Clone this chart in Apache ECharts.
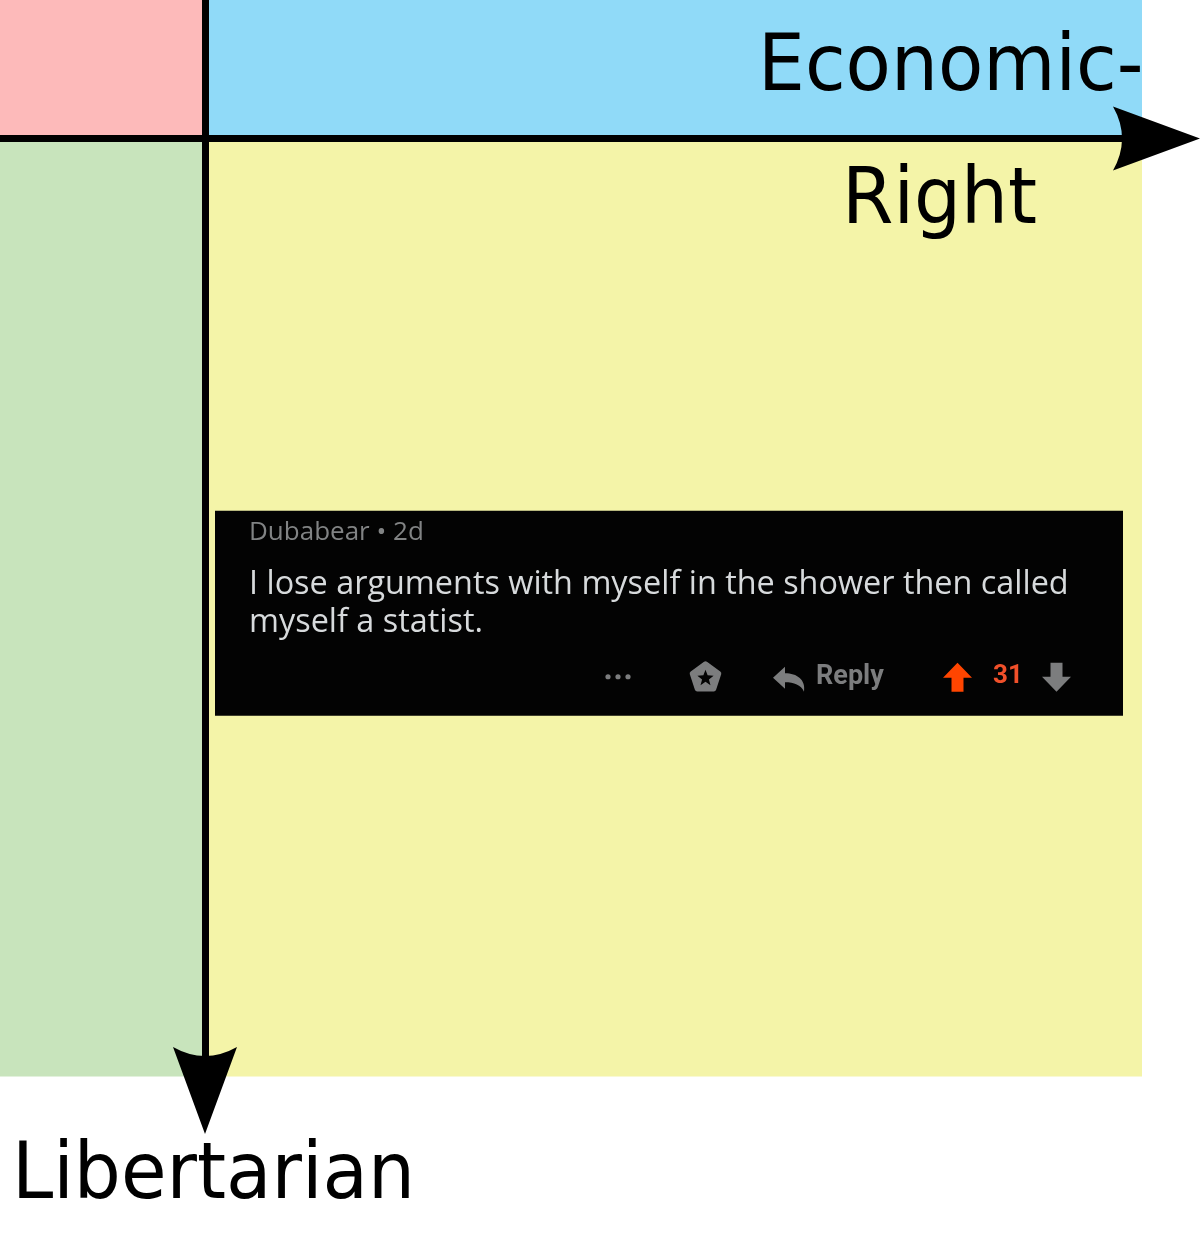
<!DOCTYPE html>
<html>
<head>
<meta charset="utf-8">
<script src="https://cdn.jsdelivr.net/npm/echarts@6/dist/echarts.min.js"></script>
<style>
html,body{margin:0;padding:0;background:#ffffff;}
#chart{width:1202px;height:1235px;}
</style>
</head>
<body>
<div id="chart"></div>
<script>
// ---- data ----
const quadrantNames = ['Authoritarian Left', 'Authoritarian Right', 'Libertarian Left', 'Libertarian Right'];
const quadrantX = [[-2.05, 0], [0, 9.37], [-2.05, 0], [0, 9.37]];
const quadrantY = [[0, 1.385], [0, 1.385], [-9.385, 0], [-9.385, 0]];
const quadrantColors = ['#fdbaba', '#90daf8', '#c8e4bc', '#f4f4a8'];

const axisRange = { x: [-2.05, 9.515], y: [-9.525, 1.385] };
const xAxisLabel = ['Economic-', 'Right'];
const yAxisLabel = 'Libertarian';

const commentAuthor = 'Dubabear';
const commentAge = '2d';
const commentLines = ['I lose arguments with myself in the shower then called', 'myself a statist.'];
const commentScore = 31;
const commentX = [0.10, 9.18];
const commentY = [-3.725, -5.775];

// ---- chart ----
const chart = echarts.init(document.getElementById('chart'));
const arrowPath = 'path://M32,0 L64,87 Q32,69 0,87 Z';
const grey = '#7c7d7e';
const bodyFont = '"Open Sans"';
const bigFont = '78px "DejaVu Sans"';

function renderQuadrant(params, api) {
  const i = params.dataIndex;
  const p1 = api.coord([quadrantX[i][0], quadrantY[i][1]]);
  const p2 = api.coord([quadrantX[i][1], quadrantY[i][0]]);
  return {
    type: 'rect',
    shape: { x: p1[0], y: p1[1], width: p2[0] - p1[0], height: p2[1] - p1[1] },
    style: { fill: quadrantColors[i] }
  };
}

function renderComment(params, api) {
  const p1 = api.coord([commentX[0], commentY[0]]);
  const p2 = api.coord([commentX[1], commentY[1]]);
  const w = p2[0] - p1[0], h = p2[1] - p1[1];
  const children = [
    { type: 'rect', shape: { x: 0, y: 0, width: w, height: h }, style: { fill: '#030303' } },
    { type: 'text', x: 34, y: 22, style: { text: commentAuthor + ' \u2022 ' + commentAge, fill: '#818384', font: '26px ' + bodyFont, verticalAlign: 'middle' } },
    { type: 'text', x: 34, y: 74, style: { text: commentLines[0], fill: '#d7dadc', font: '32.4px ' + bodyFont, verticalAlign: 'middle' } },
    { type: 'text', x: 34, y: 112, style: { text: commentLines[1], fill: '#d7dadc', font: '32.4px ' + bodyFont, verticalAlign: 'middle' } },
    // dots
    { type: 'circle', shape: { cx: 393, cy: 166, r: 2.6 }, style: { fill: grey } },
    { type: 'circle', shape: { cx: 403, cy: 166, r: 2.6 }, style: { fill: grey } },
    { type: 'circle', shape: { cx: 413, cy: 166, r: 2.6 }, style: { fill: grey } },
    // award pentagon
    { type: 'polygon', x: 490.5, y: 167, shape: { points: pentagon(14) }, style: { fill: grey, stroke: grey, lineWidth: 5, lineJoin: 'round' } },
    { type: 'polygon', x: 490.5, y: 167.5, shape: { points: star(8.5, 3.6) }, style: { fill: '#030303' } },
    // reply icon
    { type: 'path', x: 558, y: 156, shape: { pathData: 'M0,11 L12,0 L12,6.5 C24,6.5 33,13 31,25 C28,18 21,15.5 12,15.5 L12,22 Z' }, style: { fill: grey } },
    { type: 'text', x: 601, y: 166, style: { text: 'Reply', fill: grey, font: 'bold 27px Roboto', verticalAlign: 'middle' } },
    // upvote
    { type: 'path', x: 728, y: 152, shape: { pathData: 'M14.5,0 L29,15 L20.5,15 L20.5,29 L8.5,29 L8.5,15 L0,15 Z' }, style: { fill: '#ff4500' } },
    { type: 'text', x: 778, y: 166, style: { text: String(commentScore), fill: '#f0502a', font: 'bold 26px Roboto', verticalAlign: 'middle' } },
    // downvote
    { type: 'path', x: 827, y: 152, shape: { pathData: 'M8.5,0 L20.5,0 L20.5,14 L29,14 L14.5,29 L0,14 L8.5,14 Z' }, style: { fill: grey } }
  ];
  return { type: 'group', x: p1[0], y: p1[1], children: children };
}

function pentagon(r) {
  const pts = [];
  for (let k = 0; k < 5; k++) {
    const a = -Math.PI / 2 + k * 2 * Math.PI / 5;
    pts.push([r * Math.cos(a), r * Math.sin(a)]);
  }
  return pts;
}
function star(R, r) {
  const pts = [];
  for (let k = 0; k < 10; k++) {
    const a = -Math.PI / 2 + k * Math.PI / 5;
    const rr = k % 2 === 0 ? R : r;
    pts.push([rr * Math.cos(a), rr * Math.sin(a)]);
  }
  return pts;
}

const axisCommon = {
  type: 'value',
  z: 5,
  splitLine: { show: false },
  axisTick: { show: false },
  axisLabel: { show: false }
};

chart.setOption({
  animation: false,
  backgroundColor: '#ffffff',
  grid: { left: 0, top: 0, right: 45.5, bottom: 144.5, containLabel: false },
  xAxis: Object.assign({}, axisCommon, {
    min: axisRange.x[0], max: axisRange.x[1],
    axisLine: { show: true, onZero: true, symbol: ['none', arrowPath], symbolSize: [64, 87], lineStyle: { color: '#000', width: 7 } }
  }),
  yAxis: Object.assign({}, axisCommon, {
    min: axisRange.y[0], max: axisRange.y[1],
    axisLine: { show: true, onZero: true, symbol: [arrowPath, 'none'], symbolSize: [64, 87], lineStyle: { color: '#000', width: 7 } }
  }),
  graphic: [
    { type: 'text', x: 1143.5, y: 31, scaleX: 0.95, style: { text: xAxisLabel[0], fill: '#000', font: bigFont, align: 'right', verticalAlign: 'top' }, z: 10 },
    { type: 'text', x: 842, y: 164, scaleX: 0.95, style: { text: xAxisLabel[1], fill: '#000', font: bigFont, align: 'left', verticalAlign: 'top' }, z: 10 },
    { type: 'text', x: 12, y: 1139, scaleX: 0.95, style: { text: yAxisLabel, fill: '#000', font: bigFont, align: 'left', verticalAlign: 'top' }, z: 10 }
  ],
  series: [
    { type: 'custom', name: 'quadrants', z: 1, silent: true, renderItem: renderQuadrant, data: quadrantNames.map((n, i) => [i]) },
    { type: 'custom', name: 'comment', z: 3, silent: true, renderItem: renderComment, data: [[0]] }
  ]
});
</script>
</body>
</html>
